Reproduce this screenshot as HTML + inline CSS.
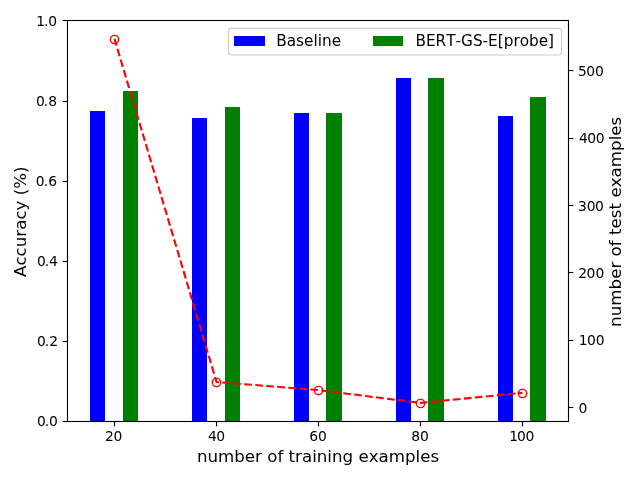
<!DOCTYPE html>
<html><head><meta charset="utf-8"><title>Accuracy vs number of training examples</title>
<style>html,body{margin:0;padding:0;background:#fff;width:640px;height:480px;overflow:hidden}</style>
</head><body>
<svg width="640" height="480" viewBox="0 0 640 480" style="display:block;font-kerning:none">
<rect x="0" y="0" width="640" height="480" fill="#ffffff"/>
<g><rect x="90" y="111" width="15" height="310.5" fill="#0000ff"/><rect x="192" y="118" width="15" height="303.5" fill="#0000ff"/><rect x="294" y="113" width="15" height="308.5" fill="#0000ff"/><rect x="396" y="78" width="15" height="343.5" fill="#0000ff"/><rect x="498" y="116" width="15" height="305.5" fill="#0000ff"/><rect x="123" y="91" width="15" height="330.5" fill="#008000"/><rect x="225" y="107" width="15" height="314.5" fill="#008000"/><rect x="326" y="113" width="16" height="308.5" fill="#008000"/><rect x="428" y="78" width="16" height="343.5" fill="#008000"/><rect x="530" y="97" width="16" height="324.5" fill="#008000"/></g>
<g stroke="#000" stroke-width="1.111"><line x1="114.5" y1="421.5" x2="114.5" y2="426.361"/><line x1="216.5" y1="421.5" x2="216.5" y2="426.361"/><line x1="318.5" y1="421.5" x2="318.5" y2="426.361"/><line x1="420.5" y1="421.5" x2="420.5" y2="426.361"/><line x1="522.5" y1="421.5" x2="522.5" y2="426.361"/><line x1="62.639" y1="421.5" x2="67.5" y2="421.5"/><line x1="62.639" y1="341.5" x2="67.5" y2="341.5"/><line x1="62.639" y1="261.5" x2="67.5" y2="261.5"/><line x1="62.639" y1="181.5" x2="67.5" y2="181.5"/><line x1="62.639" y1="101.5" x2="67.5" y2="101.5"/><line x1="62.639" y1="20.5" x2="67.5" y2="20.5"/><line x1="568.5" y1="407.5" x2="573.361" y2="407.5"/><line x1="568.5" y1="340.5" x2="573.361" y2="340.5"/><line x1="568.5" y1="272.5" x2="573.361" y2="272.5"/><line x1="568.5" y1="205.5" x2="573.361" y2="205.5"/><line x1="568.5" y1="138.5" x2="573.361" y2="138.5"/><line x1="568.5" y1="70.5" x2="573.361" y2="70.5"/></g>
<rect x="67.5" y="20.5" width="501.0" height="401.0" fill="none" stroke="#000" stroke-width="1.111" stroke-linejoin="miter" stroke-linecap="square"/>
<rect x="228.5" y="28.4" width="333" height="26.6" rx="3" ry="3" fill="#ffffff" fill-opacity="0.8" stroke="#cccccc" stroke-width="1.111"/>
<rect x="234" y="36" width="31" height="10" fill="#0000ff"/>
<rect x="373" y="36" width="30" height="10" fill="#008000"/>
<g fill="#000" font-family='"DejaVu Sans", "Liberation Sans", sans-serif'>
<text x="105.07 113.53" y="441" font-size="13.889">20</text>
<text x="207.97 216.28" y="441" font-size="13.889">40</text>
<text x="309.17 317.98" y="441" font-size="13.889">60</text>
<text x="411.17 419.98" y="441" font-size="13.889">80</text>
<text x="509.26 516.97 525.50" y="441" font-size="13.889">100</text>
<text x="36.92 44.83 49.06" y="426" font-size="13.889">0.0</text>
<text x="36.92 44.83 49.16" y="346" font-size="13.889">0.2</text>
<text x="37.02 44.83 49.06" y="266" font-size="13.889">0.4</text>
<text x="35.82 43.73 48.26" y="186" font-size="13.889">0.6</text>
<text x="36.02 43.83 48.26" y="106" font-size="13.889">0.8</text>
<text x="36.22 44.03 48.26" y="26" font-size="13.889">1.0</text>
<text x="578.60" y="413" font-size="13.889">0</text>
<text x="578.70 587.01 595.74" y="345" font-size="13.889">100</text>
<text x="578.20 586.51 595.54" y="278" font-size="13.889">200</text>
<text x="577.95 586.71 595.04" y="211" font-size="13.889">300</text>
<text x="579.00 587.26 595.84" y="143" font-size="13.889">400</text>
<text x="577.95 586.21 595.04" y="76" font-size="13.889">500</text>
<text x="318" y="462" text-anchor="middle" font-size="16.667">number of training examples</text>
<text transform="translate(26.2 221.7) rotate(-90)" text-anchor="middle" font-size="16.667">Accuracy (%)</text>
<text transform="translate(621.3 221.8) rotate(-90)" text-anchor="middle" textLength="210.2" lengthAdjust="spacing" font-size="16.667">number of test examples</text>
<text x="276.3" y="45.8" font-size="15.278">Baseline</text>
<text x="415.5" y="45.8" font-size="15.278">BERT-GS-E[probe]</text>
</g>
<polyline points="114.5,38.85 216.5,382.0 318.5,390.1 420.5,402.9 522.5,392.8" fill="none" stroke="#ff0000" stroke-width="2.083" stroke-dasharray="7.708 3.333" stroke-dashoffset="0.6" stroke-linecap="butt" stroke-linejoin="round"/>
<circle cx="114.5" cy="39.5" r="4.167" fill="none" stroke="#ff0000" stroke-width="1.389"/><circle cx="216.5" cy="382.5" r="4.167" fill="none" stroke="#ff0000" stroke-width="1.389"/><circle cx="318.5" cy="390.5" r="4.167" fill="none" stroke="#ff0000" stroke-width="1.389"/><circle cx="420.5" cy="403.5" r="4.167" fill="none" stroke="#ff0000" stroke-width="1.389"/><circle cx="522.5" cy="393.5" r="4.167" fill="none" stroke="#ff0000" stroke-width="1.389"/>
</svg>
</body></html>
